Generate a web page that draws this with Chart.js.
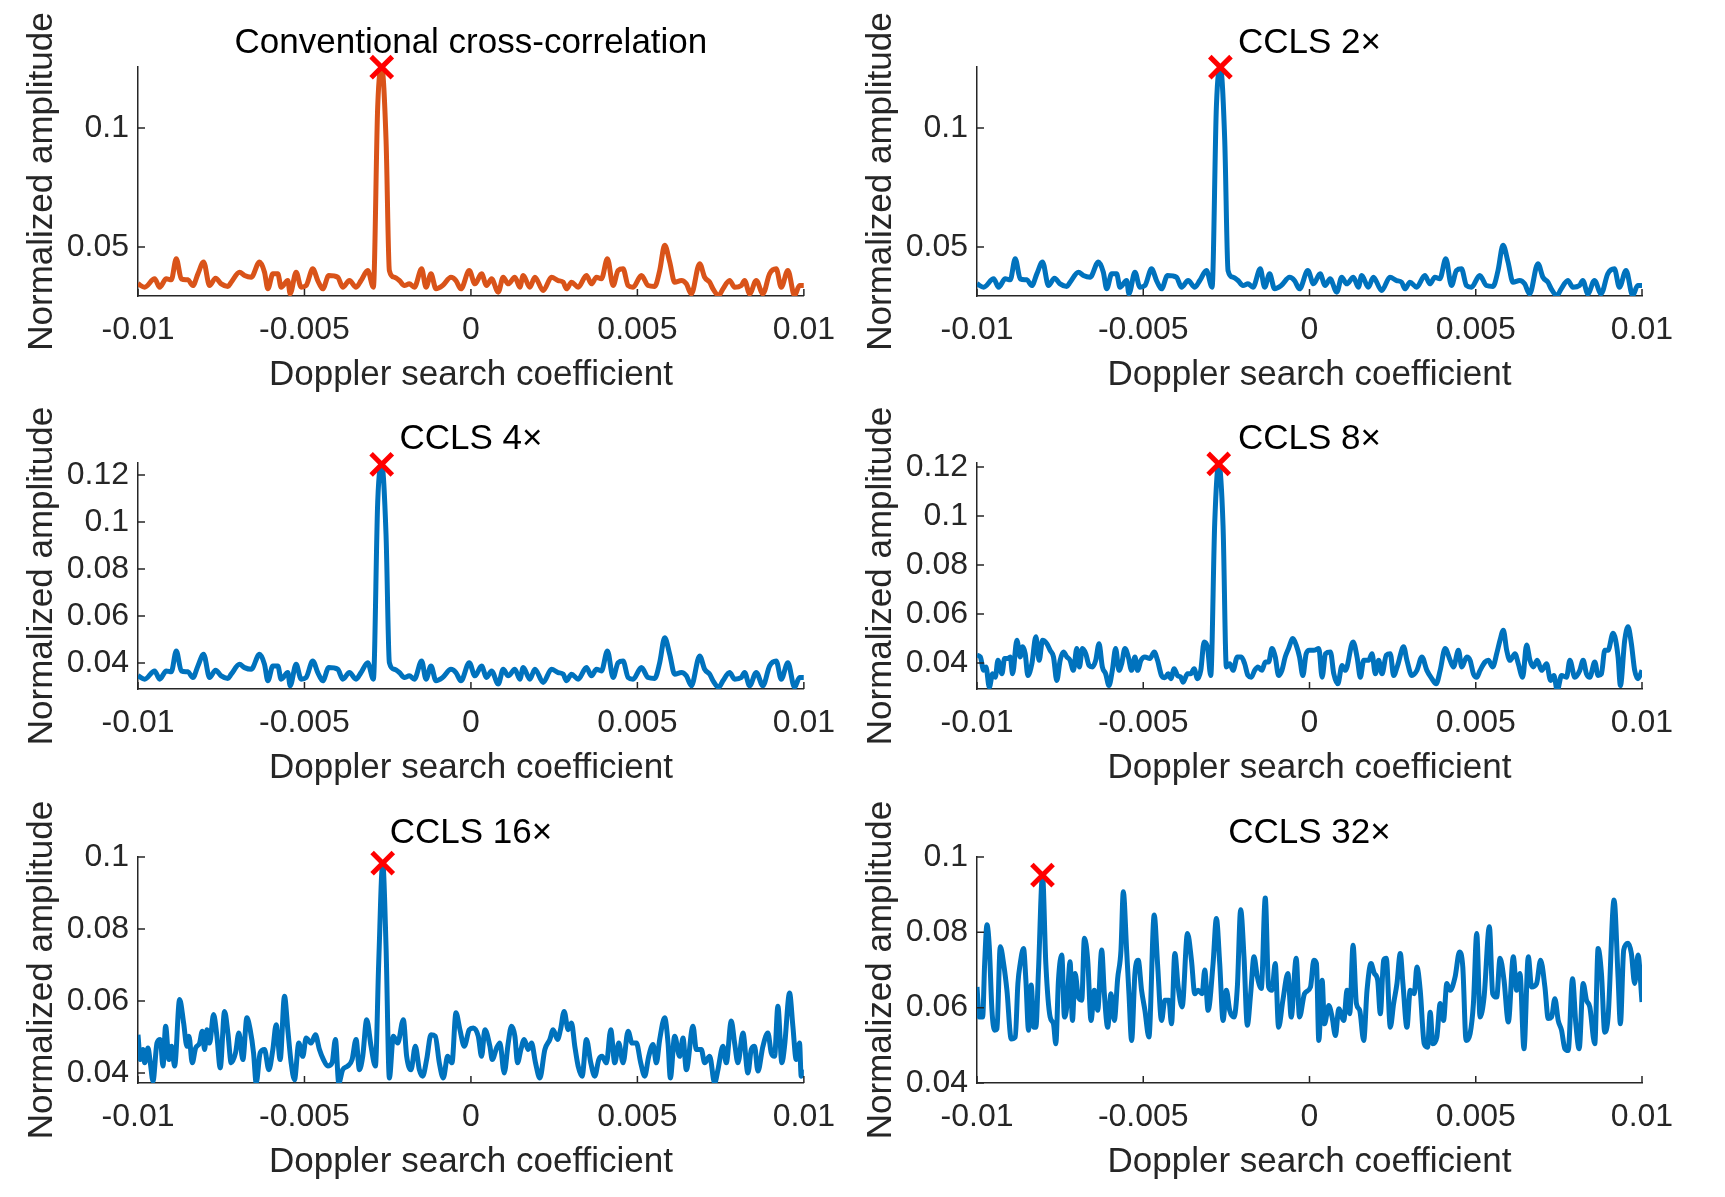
<!DOCTYPE html>
<html>
<head>
<meta charset="utf-8">
<script src="https://cdn.jsdelivr.net/npm/chart.js@4.4.0/dist/chart.umd.min.js"></script>
<style>
  body { margin: 0; background: #fff; width: 1725px; height: 1197px; position: relative; overflow: hidden; }
  canvas { position: absolute; }
</style>
</head>
<body>
<canvas id="p1" width="850" height="396" style="left:0px;top:0px"></canvas>
<canvas id="p2" width="850" height="396" style="left:839px;top:0px"></canvas>
<canvas id="p3" width="850" height="393" style="left:0px;top:396px"></canvas>
<canvas id="p4" width="850" height="393" style="left:839px;top:396px"></canvas>
<canvas id="p5" width="850" height="393" style="left:0px;top:790px"></canvas>
<canvas id="p6" width="850" height="393" style="left:839px;top:790px"></canvas>
<script>
"use strict";

const titles = ['Conventional cross-correlation', 'CCLS 2×', 'CCLS 4×', 'CCLS 8×', 'CCLS 16×', 'CCLS 32×'];

const xTicks = [-0.01, -0.005, 0, 0.005, 0.01];
const xTickLabels = ['-0.01', '-0.005', '0', '0.005', '0.01'];
const yTicksA = [0.05, 0.1];
const yTickLabelsA = ['0.05', '0.1'];
const yTicksB = [0.04, 0.06, 0.08, 0.1, 0.12];
const yTickLabelsB = ['0.04', '0.06', '0.08', '0.1', '0.12'];
const yTicksC = [0.04, 0.06, 0.08, 0.1];
const yTickLabelsC = ['0.04', '0.06', '0.08', '0.1'];

// conventional, 2x and 4x share the same doppler positions
const convX = [-0.01, -0.0098, -0.0095, -0.00935, -0.00915, -0.009, -0.00885, -0.0087, -0.0085, -0.00835, -0.0082, -0.00803, -0.00785, -0.00767, -0.0075, -0.0073, -0.0072, -0.00695, -0.0068, -0.0066, -0.00635, -0.0062, -0.0061, -0.00595, -0.0058, -0.0057, -0.0055, -0.00543, -0.00525, -0.0051, -0.00495, -0.00475, -0.0046, -0.00445, -0.00427, -0.004, -0.00385, -0.00365, -0.00345, -0.0033, -0.0031, -0.00293, -0.0028, -0.00268, -0.00255, -0.00245, -0.0023, -0.00215, -0.002, -0.00185, -0.0017, -0.00148, -0.00135, -0.0012, -0.00105, -0.00085, -0.0006, -0.00045, -0.0003, -0.00005,
  0.00012, 0.00032, 0.00047, 0.00062, 0.00082, 0.00097, 0.00112, 0.00132, 0.00147, 0.00157, 0.00177, 0.00192, 0.00217, 0.00242, 0.00262, 0.00277, 0.00287, 0.00302, 0.00322, 0.00347, 0.00362, 0.00377, 0.00392, 0.0041, 0.00427, 0.00442, 0.00457, 0.00472, 0.00487, 0.00512, 0.00532, 0.00552, 0.00567, 0.00582, 0.00597, 0.00612, 0.00632, 0.00647, 0.00662, 0.00687, 0.00702, 0.00717, 0.00727, 0.00744, 0.00757, 0.00777, 0.00792, 0.00812, 0.00822, 0.00837, 0.00857, 0.00877, 0.00897, 0.00917, 0.00932, 0.00952, 0.00972, 0.00987, 0.01];
const convY = [0.0345, 0.0331, 0.0366, 0.0331, 0.0366, 0.0362, 0.0451, 0.0366, 0.0362, 0.0338, 0.0387, 0.0437, 0.0338, 0.0369, 0.0345, 0.0334, 0.0352, 0.0394, 0.0380, 0.0373, 0.0437, 0.0394, 0.0324, 0.0387, 0.0387, 0.0331, 0.0359, 0.0303, 0.0394, 0.0331, 0.0338, 0.0408, 0.0359, 0.0324, 0.0380, 0.0373, 0.0331, 0.0359, 0.0331, 0.0359, 0.0401, 0.0331, 0.1091, 0.1255, 0.0951, 0.0401, 0.0373, 0.0359, 0.0338, 0.0345, 0.0331, 0.0408, 0.0331, 0.0387, 0.0324, 0.0338, 0.0373, 0.0359, 0.0324, 0.0401,
  0.0345, 0.0387, 0.0338, 0.0366, 0.0310, 0.0373, 0.0345, 0.0373, 0.0331, 0.0380, 0.0331, 0.0373, 0.0317, 0.0373, 0.0359, 0.0352, 0.0324, 0.0352, 0.0331, 0.0380, 0.0345, 0.0373, 0.0366, 0.0451, 0.0338, 0.0401, 0.0408, 0.0338, 0.0331, 0.0380, 0.0338, 0.0334, 0.0401, 0.0507, 0.0437, 0.0352, 0.0359, 0.0345, 0.0303, 0.0430, 0.0373, 0.0352, 0.0324, 0.0296, 0.0324, 0.0359, 0.0331, 0.0338, 0.0359, 0.0303, 0.0359, 0.0303, 0.0387, 0.0408, 0.0331, 0.0401, 0.0296, 0.0338, 0.0338];
const ccls2Y = [0.0345, 0.0331, 0.0366, 0.0331, 0.0366, 0.0362, 0.0451, 0.0366, 0.0362, 0.0338, 0.0387, 0.0437, 0.0338, 0.0369, 0.0345, 0.0334, 0.0352, 0.0394, 0.0380, 0.0373, 0.0437, 0.0394, 0.0324, 0.0387, 0.0387, 0.0331, 0.0359, 0.0303, 0.0394, 0.0331, 0.0338, 0.0408, 0.0359, 0.0324, 0.0380, 0.0373, 0.0331, 0.0359, 0.0331, 0.0359, 0.0401, 0.0331, 0.1091, 0.1255, 0.0951, 0.0401, 0.0373, 0.0359, 0.0338, 0.0345, 0.0331, 0.0408, 0.0331, 0.0387, 0.0324, 0.0338, 0.0373, 0.0359, 0.0324, 0.0401,
  0.0345, 0.0387, 0.0338, 0.0366, 0.0310, 0.0373, 0.0345, 0.0373, 0.0331, 0.0380, 0.0331, 0.0373, 0.0317, 0.0373, 0.0359, 0.0352, 0.0324, 0.0352, 0.0331, 0.0380, 0.0345, 0.0373, 0.0366, 0.0451, 0.0338, 0.0401, 0.0408, 0.0338, 0.0331, 0.0380, 0.0338, 0.0334, 0.0401, 0.0507, 0.0437, 0.0352, 0.0359, 0.0345, 0.0303, 0.0430, 0.0373, 0.0352, 0.0324, 0.0296, 0.0324, 0.0359, 0.0331, 0.0338, 0.0359, 0.0303, 0.0359, 0.0303, 0.0387, 0.0408, 0.0331, 0.0401, 0.0296, 0.0338, 0.0338];
const ccls4Y = [0.0345, 0.0331, 0.0366, 0.0331, 0.0366, 0.0362, 0.0451, 0.0366, 0.0362, 0.0338, 0.0387, 0.0437, 0.0338, 0.0369, 0.0345, 0.0334, 0.0352, 0.0394, 0.0380, 0.0373, 0.0437, 0.0394, 0.0324, 0.0387, 0.0387, 0.0331, 0.0359, 0.0303, 0.0394, 0.0331, 0.0338, 0.0408, 0.0359, 0.0324, 0.0380, 0.0373, 0.0331, 0.0359, 0.0331, 0.0359, 0.0401, 0.0331, 0.1085, 0.1245, 0.0946, 0.0401, 0.0373, 0.0359, 0.0338, 0.0345, 0.0331, 0.0408, 0.0331, 0.0387, 0.0324, 0.0338, 0.0373, 0.0359, 0.0324, 0.0401,
  0.0345, 0.0387, 0.0338, 0.0366, 0.0310, 0.0373, 0.0345, 0.0373, 0.0331, 0.0380, 0.0331, 0.0373, 0.0317, 0.0373, 0.0359, 0.0352, 0.0324, 0.0352, 0.0331, 0.0380, 0.0345, 0.0373, 0.0366, 0.0451, 0.0338, 0.0401, 0.0408, 0.0338, 0.0331, 0.0380, 0.0338, 0.0334, 0.0401, 0.0507, 0.0437, 0.0352, 0.0359, 0.0345, 0.0303, 0.0430, 0.0373, 0.0352, 0.0324, 0.0296, 0.0324, 0.0359, 0.0331, 0.0338, 0.0359, 0.0303, 0.0359, 0.0303, 0.0387, 0.0408, 0.0331, 0.0401, 0.0296, 0.0338, 0.0338];

const ccls8X = [-0.01, -0.0099, -0.0098, -0.00973, -0.00963, -0.00953, -0.00945, -0.00937, -0.00925, -0.00917, -0.00907, -0.009, -0.00893, -0.0088, -0.0087, -0.00863, -0.00855, -0.00847, -0.00835, -0.00823, -0.00813, -0.00803, -0.0079, -0.0078, -0.0077, -0.0076, -0.0075, -0.0074, -0.0073, -0.0072, -0.0071, -0.007, -0.00692, -0.00683, -0.00673, -0.00663, -0.00653, -0.00643, -0.00633, -0.00623, -0.00613, -0.00603, -0.00593, -0.00583, -0.00573, -0.00565, -0.00555, -0.00545, -0.00535, -0.00525, -0.00517, -0.00507, -0.00495, -0.0048, -0.00467, -0.00457, -0.00445, -0.00435, -0.00425, -0.00417, -0.00407, -0.00397, -0.00387, -0.0038, -0.00367, -0.00357, -0.00347, -0.00337, -0.00327, -0.00317, -0.00307, -0.00297, -0.00285, -0.00273, -0.0026, -0.0025, -0.0024, -0.0023, -0.00217, -0.00205, -0.00195, -0.00185, -0.00175, -0.00165, -0.00155, -0.00143, -0.00133, -0.00123, -0.00113, -0.00103, -0.00093, -0.00083, -0.00073, -0.00063, -0.0005, -0.0004, -0.0003, -0.0002, -0.0001, 0,
  0.00013, 0.00028, 0.00038, 0.00048, 0.00063, 0.00073, 0.00085, 0.00098, 0.00108, 0.00131, 0.00143, 0.00153, 0.00163, 0.00178, 0.00188, 0.00198, 0.00208, 0.00218, 0.00231, 0.00243, 0.00253, 0.00265, 0.00283, 0.00293, 0.00308, 0.00323, 0.00338, 0.00353, 0.00368, 0.00381, 0.00393, 0.00408, 0.00423, 0.00433, 0.00448, 0.00458, 0.00473, 0.00483, 0.00493, 0.00503, 0.00513, 0.00528, 0.00538, 0.00551, 0.00563, 0.00573, 0.00583, 0.00593, 0.00603, 0.00618, 0.00628, 0.00641, 0.00653, 0.00663, 0.00673, 0.00685, 0.00698, 0.00713, 0.00725, 0.00735, 0.00745, 0.00758, 0.00773, 0.00783, 0.00798, 0.00813, 0.00823, 0.00833, 0.00843, 0.00858, 0.00868, 0.00878, 0.00888, 0.00898, 0.00913, 0.00928, 0.00935, 0.00948, 0.00958, 0.00968, 0.00978, 0.00988, 0.01];
const ccls8Y = [0.0432, 0.0425, 0.0370, 0.0384, 0.0301, 0.0356, 0.0342, 0.0411, 0.0356, 0.0418, 0.0418, 0.0425, 0.0356, 0.0493, 0.0425, 0.0466, 0.0438, 0.0349, 0.0397, 0.0507, 0.0411, 0.0493, 0.0479, 0.0452, 0.0425, 0.0329, 0.0411, 0.0445, 0.0425, 0.0411, 0.0370, 0.0459, 0.0384, 0.0459, 0.0438, 0.0390, 0.0384, 0.0411, 0.0479, 0.0384, 0.0356, 0.0308, 0.0370, 0.0459, 0.0370, 0.0397, 0.0459, 0.0425, 0.0370, 0.0425, 0.0370, 0.0411, 0.0425, 0.0418, 0.0445, 0.0411, 0.0349, 0.0340, 0.0356, 0.0336, 0.0377, 0.0349, 0.0342, 0.0322, 0.0356, 0.0356, 0.0377, 0.0336, 0.0370, 0.0486, 0.0466, 0.0349, 0.0973, 0.1212, 0.0959, 0.0384, 0.0397, 0.0370, 0.0425, 0.0425, 0.0397, 0.0349, 0.0342, 0.0370, 0.0384, 0.0370, 0.0404, 0.0404, 0.0459, 0.0425, 0.0349, 0.0370, 0.0425, 0.0459, 0.0500, 0.0473, 0.0425, 0.0349, 0.0438, 0.0452,
  0.0452, 0.0459, 0.0342, 0.0438, 0.0445, 0.0356, 0.0315, 0.0390, 0.0370, 0.0486, 0.0425, 0.0342, 0.0411, 0.0411, 0.0438, 0.0356, 0.0411, 0.0356, 0.0432, 0.0438, 0.0349, 0.0390, 0.0466, 0.0411, 0.0349, 0.0370, 0.0425, 0.0370, 0.0336, 0.0315, 0.0370, 0.0459, 0.0411, 0.0384, 0.0452, 0.0384, 0.0425, 0.0411, 0.0356, 0.0342, 0.0370, 0.0404, 0.0411, 0.0384, 0.0438, 0.0493, 0.0534, 0.0452, 0.0411, 0.0438, 0.0397, 0.0342, 0.0473, 0.0411, 0.0384, 0.0411, 0.0370, 0.0397, 0.0329, 0.0349, 0.0288, 0.0349, 0.0342, 0.0411, 0.0342, 0.0370, 0.0411, 0.0356, 0.0342, 0.0404, 0.0349, 0.0356, 0.0452, 0.0452, 0.0521, 0.0425, 0.0308, 0.0493, 0.0548, 0.0479, 0.0370, 0.0336, 0.0370];

const ccls16X = [-0.01, -0.00993, -0.00985, -0.0098, -0.0097, -0.00963, -0.00955, -0.00943, -0.00933, -0.00925, -0.00917, -0.00907, -0.00899, -0.0089, -0.00875, -0.00863, -0.00853, -0.00847, -0.00837, -0.00827, -0.00815, -0.00807, -0.008, -0.00793, -0.00785, -0.00773, -0.00763, -0.00753, -0.0074, -0.0073, -0.0072, -0.00707, -0.00697, -0.00685, -0.00673, -0.00663, -0.00653, -0.00645, -0.00633, -0.0062, -0.00607, -0.00595, -0.00585, -0.00573, -0.0056, -0.0055, -0.0054, -0.0053, -0.00517, -0.00505, -0.00495, -0.0048, -0.00467, -0.00455, -0.00443, -0.0043, -0.00417, -0.00407, -0.00397, -0.00385, -0.0037, -0.00357, -0.00345, -0.00335, -0.00325, -0.00313, -0.003, -0.00287, -0.00277, -0.00265, -0.00255, -0.00245, -0.00233, -0.0022, -0.00203, -0.00193, -0.0018, -0.00167, -0.00155, -0.00145, -0.00133, -0.0012, -0.00107, -0.00095, -0.00083, -0.0007, -0.00057, -0.00045, -0.00033, -0.0002, -0.00005,
  0.00007, 0.00022, 0.00032, 0.00042, 0.00057, 0.00064, 0.00077, 0.00087, 0.001, 0.00112, 0.00122, 0.00132, 0.0014, 0.0015, 0.0016, 0.00172, 0.00182, 0.00194, 0.00207, 0.00222, 0.00237, 0.00247, 0.0026, 0.00269, 0.0028, 0.00292, 0.00302, 0.00312, 0.00322, 0.00334, 0.00347, 0.0036, 0.00372, 0.00384, 0.00394, 0.00407, 0.0042, 0.00432, 0.00444, 0.00457, 0.00472, 0.00484, 0.00497, 0.0051, 0.00522, 0.00534, 0.00547, 0.00557, 0.00567, 0.00582, 0.00592, 0.00599, 0.00612, 0.00627, 0.00637, 0.00647, 0.00667, 0.00677, 0.00692, 0.00702, 0.00717, 0.00732, 0.00742, 0.00757, 0.00767, 0.00782, 0.00792, 0.00802, 0.00817, 0.00832, 0.00842, 0.00852, 0.00862, 0.00877, 0.00892, 0.00902, 0.00912, 0.00922, 0.00934, 0.00942, 0.00957, 0.00967, 0.00977, 0.00987, 0.00992, 0.01];
const ccls16Y = [0.0506, 0.0437, 0.0465, 0.0428, 0.0469, 0.0428, 0.0377, 0.0483, 0.0493, 0.0419, 0.0530, 0.0437, 0.0474, 0.0419, 0.0604, 0.0539, 0.0474, 0.0502, 0.0428, 0.0469, 0.0483, 0.0516, 0.0465, 0.0520, 0.0483, 0.0562, 0.0502, 0.0414, 0.0571, 0.0511, 0.0428, 0.0456, 0.0511, 0.0437, 0.0553, 0.0520, 0.0456, 0.0372, 0.0456, 0.0465, 0.0409, 0.0465, 0.0534, 0.0437, 0.0613, 0.0520, 0.0428, 0.0381, 0.0483, 0.0446, 0.0497, 0.0483, 0.0506, 0.0465, 0.0437, 0.0419, 0.0428, 0.0493, 0.0372, 0.0409, 0.0419, 0.0437, 0.0493, 0.0409, 0.0446, 0.0548, 0.0474, 0.0419, 0.0706, 0.0983, 0.0752, 0.0386, 0.0502, 0.0483, 0.0548, 0.0446, 0.0409, 0.0474, 0.0409, 0.0391, 0.0437, 0.0506, 0.0502, 0.0428, 0.0386, 0.0446, 0.0428, 0.0567, 0.0520, 0.0474, 0.0520,
  0.0525, 0.0502, 0.0446, 0.0520, 0.0474, 0.0437, 0.0469, 0.0483, 0.0400, 0.0483, 0.0530, 0.0502, 0.0428, 0.0465, 0.0493, 0.0465, 0.0483, 0.0428, 0.0386, 0.0465, 0.0493, 0.0520, 0.0493, 0.0520, 0.0571, 0.0520, 0.0539, 0.0474, 0.0419, 0.0391, 0.0493, 0.0428, 0.0391, 0.0437, 0.0446, 0.0428, 0.0520, 0.0428, 0.0483, 0.0428, 0.0516, 0.0483, 0.0483, 0.0428, 0.0391, 0.0446, 0.0479, 0.0428, 0.0493, 0.0553, 0.0483, 0.0386, 0.0502, 0.0446, 0.0497, 0.0409, 0.0530, 0.0465, 0.0465, 0.0428, 0.0446, 0.0372, 0.0409, 0.0474, 0.0428, 0.0544, 0.0483, 0.0428, 0.0511, 0.0400, 0.0465, 0.0474, 0.0405, 0.0474, 0.0511, 0.0456, 0.0446, 0.0585, 0.0428, 0.0474, 0.0622, 0.0530, 0.0437, 0.0483, 0.0391, 0.0409];

const ccls32X = [-0.01, -0.00993, -0.00983, -0.00977, -0.0097, -0.00963, -0.00955, -0.00947, -0.0094, -0.0093, -0.0092, -0.0091, -0.00897, -0.00885, -0.00877, -0.0087, -0.0086, -0.00853, -0.00845, -0.00837, -0.00829, -0.00823, -0.00815, -0.00803, -0.00793, -0.0078, -0.0077, -0.00763, -0.00755, -0.00745, -0.00737, -0.0073, -0.0072, -0.00713, -0.00705, -0.00695, -0.00685, -0.00677, -0.00667, -0.00657, -0.00647, -0.00637, -0.00625, -0.00617, -0.00607, -0.00597, -0.00587, -0.00577, -0.00567, -0.0056, -0.0055, -0.00543, -0.00535, -0.00525, -0.00515, -0.00505, -0.00495, -0.00483, -0.00467, -0.00457, -0.00445, -0.00435, -0.00423, -0.00415, -0.00405, -0.00395, -0.00383, -0.00367, -0.00355, -0.00345, -0.00335, -0.00323, -0.00315, -0.00305, -0.0029, -0.0028, -0.0027, -0.0026, -0.0025, -0.0024, -0.00227, -0.00217, -0.00207, -0.00197, -0.00187, -0.00177, -0.00167, -0.00157, -0.00145, -0.00133, -0.00123, -0.00113, -0.00103, -0.00093, -0.0008, -0.00065, -0.00055, -0.0004, -0.0003, -0.00015,
  0.00003, 0.00013, 0.00021, 0.00028, 0.00038, 0.00045, 0.00058, 0.00068, 0.00078, 0.00088, 0.00103, 0.00113, 0.00121, 0.00131, 0.00141, 0.00151, 0.00163, 0.00173, 0.00185, 0.00195, 0.00205, 0.00213, 0.00223, 0.00231, 0.00243, 0.00253, 0.00263, 0.00273, 0.00281, 0.00293, 0.00303, 0.00315, 0.00323, 0.00333, 0.00345, 0.00355, 0.00363, 0.00371, 0.00383, 0.00393, 0.00403, 0.00413, 0.00423, 0.00438, 0.00451, 0.00461, 0.00471, 0.00483, 0.00493, 0.00503, 0.00513, 0.00525, 0.00541, 0.00551, 0.00563, 0.00573, 0.00585, 0.00598, 0.00613, 0.00623, 0.00633, 0.00645, 0.00658, 0.00668, 0.00683, 0.00695, 0.00708, 0.00718, 0.00728, 0.00738, 0.00748, 0.00758, 0.00768, 0.00778, 0.00791, 0.00801, 0.00811, 0.00823, 0.00833, 0.00843, 0.00858, 0.00868, 0.00878, 0.00888, 0.00898, 0.00916, 0.00928, 0.00935, 0.00945, 0.00958, 0.00968, 0.00978, 0.00988, 0.01];
const ccls32Y = [0.0655, 0.0575, 0.0575, 0.0717, 0.0820, 0.0762, 0.0593, 0.0540, 0.0544, 0.0762, 0.0717, 0.0646, 0.0517, 0.0522, 0.0664, 0.0717, 0.0757, 0.0673, 0.0540, 0.0660, 0.0548, 0.0548, 0.0700, 0.0952, 0.0717, 0.0575, 0.0557, 0.0504, 0.0673, 0.0740, 0.0575, 0.0602, 0.0722, 0.0566, 0.0691, 0.0628, 0.0620, 0.0784, 0.0726, 0.0566, 0.0646, 0.0593, 0.0753, 0.0637, 0.0548, 0.0637, 0.0566, 0.0677, 0.0753, 0.0908, 0.0753, 0.0637, 0.0513, 0.0691, 0.0726, 0.0646, 0.0593, 0.0522, 0.0846, 0.0717, 0.0566, 0.0620, 0.0620, 0.0557, 0.0744, 0.0655, 0.0602, 0.0797, 0.0726, 0.0637, 0.0646, 0.0637, 0.0700, 0.0593, 0.0717, 0.0837, 0.0717, 0.0566, 0.0646, 0.0593, 0.0575, 0.0655, 0.0860, 0.0735, 0.0553, 0.0637, 0.0735, 0.0682, 0.0651, 0.0891, 0.0655, 0.0646, 0.0717, 0.0548, 0.0620, 0.0691, 0.0575, 0.0731, 0.0575, 0.0637,
  0.0655, 0.0726, 0.0717, 0.0513, 0.0673, 0.0557, 0.0606, 0.0575, 0.0526, 0.0597, 0.0566, 0.0646, 0.0584, 0.0766, 0.0611, 0.0593, 0.0513, 0.0646, 0.0717, 0.0691, 0.0673, 0.0584, 0.0726, 0.0731, 0.0548, 0.0611, 0.0664, 0.0744, 0.0664, 0.0548, 0.0646, 0.0637, 0.0708, 0.0646, 0.0504, 0.0495, 0.0588, 0.0504, 0.0522, 0.0611, 0.0566, 0.0664, 0.0646, 0.0682, 0.0748, 0.0708, 0.0513, 0.0531, 0.0611, 0.0797, 0.0575, 0.0628, 0.0815, 0.0637, 0.0628, 0.0731, 0.0673, 0.0562, 0.0735, 0.0646, 0.0691, 0.0491, 0.0735, 0.0655, 0.0664, 0.0726, 0.0655, 0.0571, 0.0575, 0.0624, 0.0566, 0.0540, 0.0491, 0.0486, 0.0677, 0.0557, 0.0491, 0.0664, 0.0620, 0.0602, 0.0504, 0.0757, 0.0691, 0.0535, 0.0575, 0.0886, 0.0682, 0.0557, 0.0753, 0.0771, 0.0744, 0.0664, 0.0740, 0.0615];

// detected peak (red cross) per panel
const peakX = [-0.00268, -0.00268, -0.00268, -0.00273, -0.00265, -0.00803];
const peakY = [0.1255, 0.1255, 0.1245, 0.1212, 0.0983, 0.0952];

// y axis limits per panel
const yMins = [0.0294, 0.0294, 0.0289, 0.0294, 0.0372, 0.04];
const yMaxs = [0.1256, 0.1256, 0.1251, 0.1216, 0.1, 0.1];

const orange = '#D95319';
const blue = '#0072BD';
const axisColor = '#262626';

Chart.defaults.font.family = "'Liberation Sans', Arial, Helvetica, sans-serif";
Chart.defaults.color = axisColor;

// matlab style ticks pointing into the plot
const inwardTicks = {
  id: 'inwardTicks',
  afterDraw(chart) {
    const {ctx, chartArea: a, scales: {x, y}} = chart;
    ctx.save();
    ctx.strokeStyle = axisColor;
    ctx.lineWidth = 1.5;
    ctx.beginPath();
    x.ticks.forEach(t => {
      const px = x.getPixelForValue(t.value);
      ctx.moveTo(px, a.bottom);
      ctx.lineTo(px, a.bottom - 7);
    });
    y.ticks.forEach(t => {
      const py = y.getPixelForValue(t.value);
      ctx.moveTo(a.left, py);
      ctx.lineTo(a.left + 7, py);
    });
    ctx.stroke();
    ctx.restore();
  }
};

function pts(xs, ys) {
  return xs.map((x, i) => ({x: x, y: ys[i]}));
}

function makePanel(id, idx, xs, ys, color, yTicks, yLabels, rightPad) {
  return new Chart(document.getElementById(id), {
    type: 'line',
    plugins: [inwardTicks],
    data: {
      datasets: [{
        data: [{x: peakX[idx], y: peakY[idx]}],
        showLine: false,
        pointStyle: 'crossRot',
        pointRadius: 15,
        pointBorderWidth: 5,
        borderColor: '#FF0000',
        backgroundColor: '#FF0000',
        clip: false
      }, {
        data: pts(xs, ys),
        borderColor: color,
        borderWidth: 5,
        pointRadius: 0,
        cubicInterpolationMode: 'monotone',
        fill: false
      }]
    },
    options: {
      responsive: false,
      animation: false,
      devicePixelRatio: 1,
      layout: { padding: { left: 0, right: rightPad, top: 22, bottom: 0 } },
      plugins: {
        legend: { display: false },
        tooltip: { enabled: false },
        title: {
          display: true,
          text: titles[idx],
          fullSize: false,
          color: '#000',
          font: { size: 35, weight: 'normal' },
          padding: { top: 0, bottom: 3 }
        }
      },
      scales: {
        x: {
          type: 'linear',
          min: -0.01,
          max: 0.01,
          afterFit: s => { s.height = 100; },
          afterBuildTicks: s => { s.ticks = xTicks.map(v => ({value: v})); },
          ticks: {
            font: { size: 32 },
            padding: 15,
            autoSkip: false,
            maxRotation: 0,
            callback: (v, i) => xTickLabels[i]
          },
          grid: { display: false, drawTicks: false },
          border: { display: true, color: axisColor, width: 1.5 },
          title: { display: true, text: 'Doppler search coefficient', font: { size: 35 }, padding: 0 }
        },
        y: {
          type: 'linear',
          min: yMins[idx],
          max: yMaxs[idx],
          afterFit: s => { s.width = 138; },
          afterBuildTicks: s => { s.ticks = yTicks.map(v => ({value: v})); },
          ticks: {
            font: { size: 32 },
            padding: 9,
            autoSkip: false,
            callback: (v, i) => yLabels[i]
          },
          grid: { display: false, drawTicks: false },
          border: { display: true, color: axisColor, width: 1.5 },
          title: { display: true, text: 'Normalized amplitude', font: { size: 35 }, padding: { top: 21, bottom: 0 } }
        }
      }
    }
  });
}

makePanel('p1', 0, convX, convY, orange, yTicksA, yTickLabelsA, 46);
makePanel('p2', 1, convX, ccls2Y, blue, yTicksA, yTickLabelsA, 47);
makePanel('p3', 2, convX, ccls4Y, blue, yTicksB, yTickLabelsB, 46);
makePanel('p4', 3, ccls8X, ccls8Y, blue, yTicksB, yTickLabelsB, 47);
makePanel('p5', 4, ccls16X, ccls16Y, blue, yTicksC, yTickLabelsC, 46);
makePanel('p6', 5, ccls32X, ccls32Y, blue, yTicksC, yTickLabelsC, 47);
</script>
</body>
</html>
